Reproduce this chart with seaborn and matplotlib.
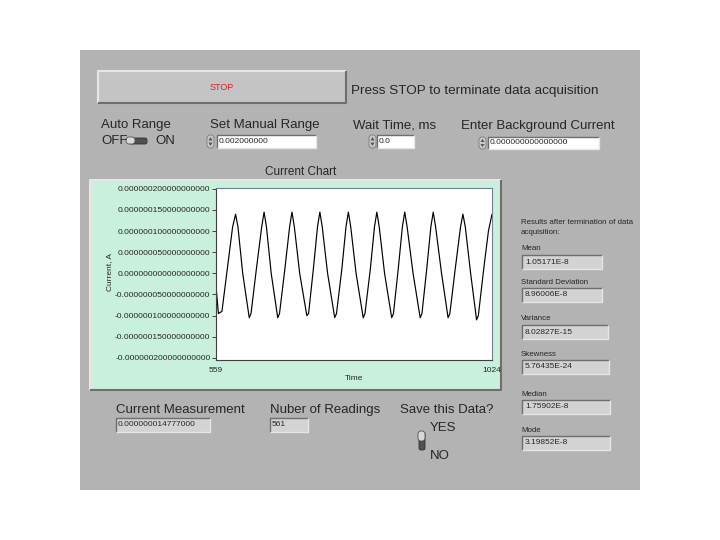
import numpy as np
import pandas as pd
import matplotlib
matplotlib.use("Agg")
import matplotlib.pyplot as plt
from matplotlib.patches import Rectangle, FancyBboxPatch, Polygon
import seaborn as sns

# waveform vertices (time index, current in 1e-8 A)
time_idx = [559, 563, 569, 578, 587, 592, 596, 604,
            615, 618, 627, 636, 640, 644, 652,
            663, 666, 675, 683, 687, 691, 700,
            712, 715, 723, 730, 734, 738, 747,
            759, 762, 771, 778, 782, 786, 795,
            807, 810, 819, 826, 830, 834, 843,
            855, 858, 866, 873, 877, 881, 891,
            903, 906, 914, 921, 925, 929, 939,
            950, 953, 962, 971, 975, 979, 988,
            998, 1001, 1010, 1018, 1024]
current_e8 = [-3, -9.5, -9, 1, 11, 14, 11, 0,
              -10.5, -9.5, 1, 11, 14.5, 11, 0,
              -10.5, -9.5, 1, 11, 14.5, 11, 0,
              -10, -9.5, 1, 11, 14.5, 11, 0,
              -10.5, -9.5, 1, 11, 14.5, 11, 0,
              -10.5, -9.5, 1, 11, 14.5, 11, 0,
              -10.5, -9.5, 1, 11, 14.5, 11, 0,
              -10.5, -9.5, 1, 11, 14.5, 11, 0,
              -10.5, -9.5, 1, 11, 14, 11, 0,
              -11, -10, 1, 10, 14]

y_ticks = [2e-7, 1.5e-7, 1e-7, 5e-8, 0, -5e-8, -1e-7, -1.5e-7, -2e-7]
y_tick_labels = ["0.000000200000000000", "0.000000150000000000",
                 "0.000000100000000000", "0.000000050000000000",
                 "0.000000000000000000", "-0.000000050000000000",
                 "-0.000000100000000000", "-0.000000150000000000",
                 "-0.000000200000000000"]
x_ticks = [559, 1024]

stat_names = ["Mean", "Standard Deviation", "Variance", "Skewness", "Median", "Mode"]
stat_values = ["1.05171E-8", "8.96006E-8", "8.02827E-15", "5.76435E-24",
               "1.75902E-8", "3.19852E-8"]

df = pd.DataFrame({"Time": time_idx, "Current": np.array(current_e8) * 1e-8})

sns.set_style("white")
plt.rcParams["font.family"] = ["Liberation Sans", "DejaVu Sans"]

PANEL = "#b3b3b3"
MINT = "#c8f0dc"
BOXFILL = "#d3d3d3"

fig = plt.figure(figsize=(7.2, 5.4), dpi=100)
fig.patch.set_facecolor("white")

# background axes in pixel coordinates
bg = fig.add_axes([0, 0, 1, 1])
bg.set_xlim(0, 720)
bg.set_ylim(540, 0)
bg.axis("off")

bg.add_patch(Rectangle((80, 50), 560, 440, facecolor=PANEL, edgecolor="none"))


def bevel(x0, y0, w, h, fill, raised=True, lw=1.0):
    bg.add_patch(Rectangle((x0, y0), w, h, facecolor=fill, edgecolor="none"))
    light, dark = ("#e6e6e6", "#6e6e6e") if raised else ("#6e6e6e", "#e6e6e6")
    bg.plot([x0, x0, x0 + w], [y0 + h, y0, y0], color=light, lw=lw, solid_capstyle="butt")
    bg.plot([x0, x0 + w, x0 + w], [y0 + h, y0 + h, y0], color=dark, lw=lw, solid_capstyle="butt")


def spinner(x0, y0, h):
    bg.add_patch(FancyBboxPatch((x0, y0), 7, h, boxstyle="round,pad=0,rounding_size=3",
                                facecolor="#c8c8c8", edgecolor="#7a7a7a", lw=0.6))
    cx = x0 + 3.5
    bg.add_patch(Polygon([[cx - 2, y0 + h / 2 - 1], [cx + 2, y0 + h / 2 - 1], [cx, y0 + 2]],
                         facecolor="#555555", edgecolor="none"))
    bg.add_patch(Polygon([[cx - 2, y0 + h / 2 + 1], [cx + 2, y0 + h / 2 + 1], [cx, y0 + h - 2]],
                         facecolor="#555555", edgecolor="none"))


# STOP button
bevel(98, 71, 248, 32, "#c4c4c4", raised=True, lw=1.5)
bg.text(222, 87, "STOP", color="#e02020", fontsize=6.5, ha="center", va="center")
bg.text(351, 91, "Press STOP to terminate data acquisition", fontsize=9.7,
        ha="left", va="center")

# top controls
bg.text(101, 125, "Auto Range", fontsize=9.5, ha="left", va="center")
bg.text(101, 141, "OFF", fontsize=9.5, ha="left", va="center")
bg.text(155, 141, "ON", fontsize=9.5, ha="left", va="center")
bg.add_patch(FancyBboxPatch((129, 138), 18, 6, boxstyle="round,pad=0,rounding_size=2",
                            facecolor="#505050", edgecolor="#303030", lw=0.6))
bg.add_patch(FancyBboxPatch((126, 137), 9, 7, boxstyle="round,pad=0,rounding_size=3",
                            facecolor="#d8d8d8", edgecolor="#555555", lw=0.6))

bg.text(210, 125, "Set Manual Range", fontsize=9.5, ha="left", va="center")
spinner(207, 135, 13)
bevel(217, 135, 99, 13, "white", raised=False)
bg.text(219, 141.5, "0.002000000", fontsize=6, ha="left", va="center")

bg.text(353, 125, "Wait Time, ms", fontsize=9.5, ha="left", va="center")
spinner(369, 135, 13)
bevel(377, 135, 37, 13, "white", raised=False)
bg.text(379, 141.5, "0.0", fontsize=6, ha="left", va="center")

bg.text(461, 126, "Enter Background Current", fontsize=9.5, ha="left", va="center")
spinner(479, 137, 12)
bevel(488, 137, 111, 12, "white", raised=False)
bg.text(490, 143, "0.000000000000000", fontsize=6, ha="left", va="center")

# chart bezel
bg.text(301, 172, "Current Chart", fontsize=8.5, ha="center", va="center")
bevel(90, 180, 411, 210, MINT, raised=True, lw=1.5)
bg.text(110, 272, "Current, A", fontsize=6, rotation=90, ha="center", va="center")

# bottom row
bg.text(116, 410, "Current Measurement", fontsize=9.5, ha="left", va="center")
bevel(116, 418, 94, 14, BOXFILL, raised=False)
bg.text(118, 425, "0.000000014777000", fontsize=6, ha="left", va="center")

bg.text(270, 410, "Nuber of Readings", fontsize=9.5, ha="left", va="center")
bevel(270, 418, 38, 14, BOXFILL, raised=False)
bg.text(272, 425, "561", fontsize=6, ha="left", va="center")

bg.text(400, 410, "Save this Data?", fontsize=9.5, ha="left", va="center")
bg.text(430, 428, "YES", fontsize=9.5, ha="left", va="center")
bg.text(430, 456, "NO", fontsize=9.5, ha="left", va="center")
bg.add_patch(FancyBboxPatch((419, 432), 6, 18, boxstyle="round,pad=0,rounding_size=2",
                            facecolor="#505050", edgecolor="#303030", lw=0.6))
bg.add_patch(FancyBboxPatch((418, 431), 7, 10, boxstyle="round,pad=0,rounding_size=3",
                            facecolor="#d8d8d8", edgecolor="#555555", lw=0.6))

# statistics column
bg.text(521, 223, "Results after termination of data", fontsize=5.7, ha="left", va="center")
bg.text(521, 232, "acquisition:", fontsize=5.7, ha="left", va="center")
label_y = [248, 282, 319, 354, 394, 430]
box_y = [255, 288, 325, 360, 400, 436]
box_w = [80, 80, 86, 87, 88, 88]
for name, val, ly, by, bw in zip(stat_names, stat_values, label_y, box_y, box_w):
    bg.text(521, ly, name, fontsize=5.7, ha="left", va="center")
    bevel(522, by, bw, 14, BOXFILL, raised=False)
    bg.text(525, by + 7, val, fontsize=6, ha="left", va="center")

# chart plot area
ax = fig.add_axes([216 / 720, 1 - 360 / 540, 276 / 720, 172 / 540])
sns.lineplot(data=df, x="Time", y="Current", ax=ax, color="black", lw=0.85,
             estimator=None, sort=False)
ax.set_facecolor("white")
ax.set_xlim(559, 1024)
ax.set_ylim(-2.05e-7, 2.02e-7)
ax.set_yticks(y_ticks)
ax.set_yticklabels(y_tick_labels, fontsize=6)
ax.set_xticks(x_ticks)
ax.set_xticklabels([str(t) for t in x_ticks], fontsize=6)
ax.tick_params(axis="y", direction="out", length=3, width=0.6, pad=1, left=True)
ax.tick_params(axis="x", direction="out", length=0, pad=5)
ax.set_xlabel("Time", fontsize=6, labelpad=1)
ax.set_ylabel("")
for side in ["top", "right"]:
    ax.spines[side].set_color("#708090")
    ax.spines[side].set_linewidth(0.8)
for side in ["left", "bottom"]:
    ax.spines[side].set_color("#404040")
    ax.spines[side].set_linewidth(0.8)

fig.savefig("out.png", dpi=100, facecolor="white")
